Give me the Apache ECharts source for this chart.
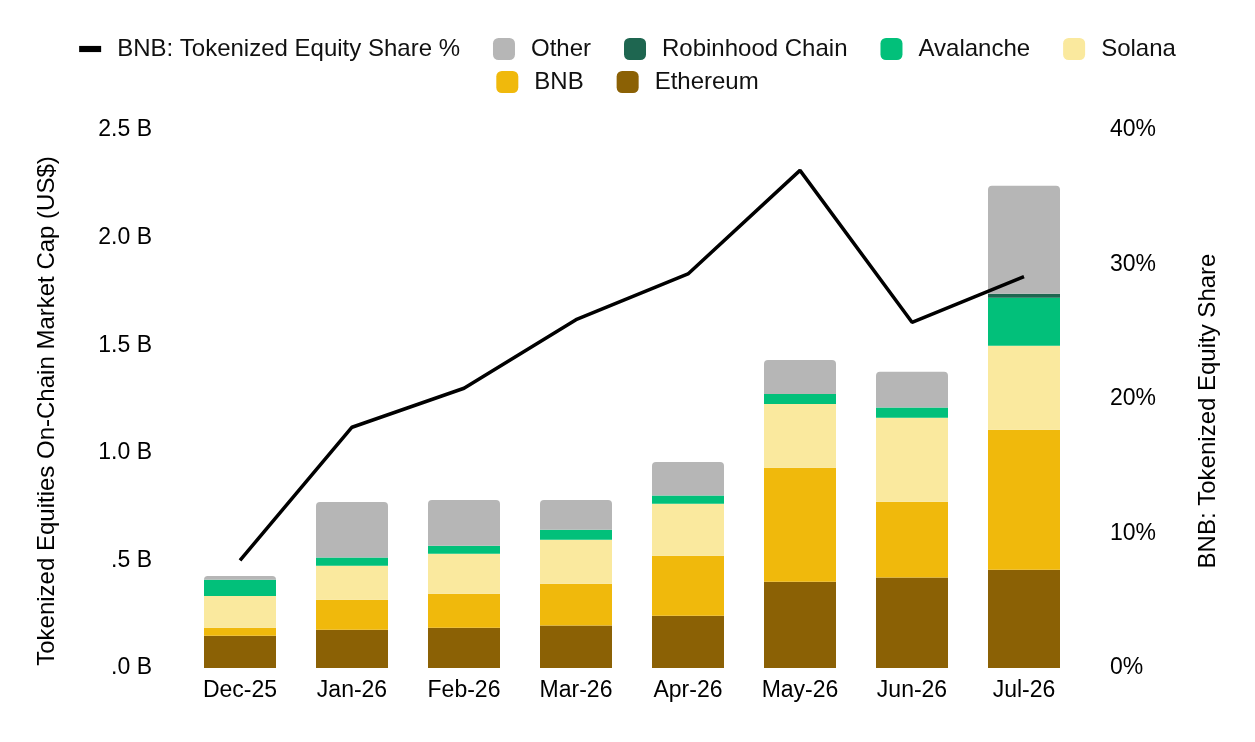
<!DOCTYPE html>
<html>
<head>
<meta charset="utf-8">
<script src="https://cdn.jsdelivr.net/npm/echarts@6/dist/echarts.min.js"></script>
<style>
html,body{margin:0;padding:0;background:#fff;}
#chart{width:1255px;height:742px;}
</style>
</head>
<body>
<div id="chart"></div>
<script>
var categories = ['Dec-25','Jan-26','Feb-26','Mar-26','Apr-26','May-26','Jun-26','Jul-26'];
var ethereum  = [0.150, 0.178, 0.187, 0.197, 0.243, 0.401, 0.420, 0.457];
var bnb       = [0.037, 0.139, 0.158, 0.195, 0.279, 0.530, 0.353, 0.650];
var solana    = [0.148, 0.158, 0.186, 0.204, 0.241, 0.296, 0.390, 0.391];
var avalanche = [0.075, 0.038, 0.037, 0.047, 0.038, 0.046, 0.047, 0.223];
var robinhood = [0, 0, 0, 0, 0, 0, 0, 0.018];
var other     = [0.017, 0.258, 0.213, 0.138, 0.156, 0.158, 0.167, 0.502];
var bnbShare  = [8.0, 17.9, 20.8, 25.9, 29.3, 37.0, 25.7, 29.1];
var leftTickLabels = ['.0 B', '.5 B', '1.0 B', '1.5 B', '2.0 B', '2.5 B'];
var rightTickLabels = ['0%', '10%', '20%', '30%', '40%'];

var FONT = 'Liberation Sans, Arial, Helvetica, sans-serif';
var FS = 23;
var FS_BIG = 24;
var colors = {
  other: '#b6b6b6',
  robinhood: '#1e6650',
  avalanche: '#02c07a',
  solana: '#fae99e',
  bnb: '#f0b90c',
  ethereum: '#8b6105'
};

var chart = echarts.init(document.getElementById('chart'));
var legendText = {fontFamily: FONT, fontSize: FS_BIG, color: '#111', padding: [0, 0, 0, 11]};
var sq = 'roundRect';

function barSeries(name, data, color, top) {
  return {
    name: name, type: 'bar', stack: 'total', data: data, barWidth: 72,
    itemStyle: {color: color, borderRadius: top ? [4, 4, 0, 0] : 0},
    emphasis: {disabled: true}
  };
}

var option = {
  animation: false,
  backgroundColor: '#fff',
  textStyle: {fontFamily: FONT},
  legend: [
    {
      top: 32, left: 'center', itemWidth: 22, itemHeight: 22, itemGap: 33,
      textStyle: legendText, selectedMode: false,
      data: [
        {name: 'BNB: Tokenized Equity Share %', icon: 'path://M0,0H25V7H0Z', itemStyle: {color: '#000'}},
        {name: 'Other', icon: sq},
        {name: 'Robinhood Chain', icon: sq},
        {name: 'Avalanche', icon: sq},
        {name: 'Solana', icon: sq}
      ]
    },
    {
      top: 65, left: 'center', itemWidth: 22, itemHeight: 22, itemGap: 33,
      textStyle: legendText, selectedMode: false,
      data: [
        {name: 'BNB', icon: sq},
        {name: 'Ethereum', icon: sq}
      ]
    }
  ],
  grid: {left: 184, right: 175, top: 130, bottom: 74, containLabel: false},
  xAxis: {
    type: 'category', data: categories, boundaryGap: true,
    axisLine: {show: false}, axisTick: {show: false},
    axisLabel: {fontFamily: FONT, fontSize: FS, color: '#000', margin: 11}
  },
  yAxis: [
    {
      type: 'value', min: 0, max: 2.5, interval: 0.5,
      name: 'Tokenized Equities On-Chain Market Cap (US$)',
      nameLocation: 'middle', nameGap: 125, nameRotate: 90,
      nameTextStyle: {fontFamily: FONT, fontSize: FS_BIG, color: '#000', padding: [0, 24, 0, 0]},
      axisLine: {show: false}, axisTick: {show: false}, splitLine: {show: false},
      axisLabel: {
        fontFamily: FONT, fontSize: FS, color: '#000', margin: 32,
        formatter: function (v) { return leftTickLabels[Math.round(v / 0.5)]; }
      }
    },
    {
      type: 'value', min: 0, max: 40, interval: 10, position: 'right',
      name: 'BNB: Tokenized Equity Share',
      nameLocation: 'middle', nameGap: 116, nameRotate: 90,
      nameTextStyle: {fontFamily: FONT, fontSize: FS_BIG, color: '#000', padding: [0, 24, 0, 0]},
      axisLine: {show: false}, axisTick: {show: false}, splitLine: {show: false},
      axisLabel: {
        fontFamily: FONT, fontSize: FS, color: '#000', margin: 30,
        formatter: function (v) { return rightTickLabels[Math.round(v / 10)]; }
      }
    }
  ],
  series: [
    barSeries('Ethereum', ethereum, colors.ethereum, false),
    barSeries('BNB', bnb, colors.bnb, false),
    barSeries('Solana', solana, colors.solana, false),
    barSeries('Avalanche', avalanche, colors.avalanche, false),
    barSeries('Robinhood Chain', robinhood, colors.robinhood, false),
    barSeries('Other', other, colors.other, true),
    {
      name: 'BNB: Tokenized Equity Share %', type: 'line', yAxisIndex: 1,
      data: bnbShare, symbol: 'none', z: 10,
      lineStyle: {color: '#000', width: 3.5}, itemStyle: {color: '#000'},
      emphasis: {disabled: true}
    }
  ]
};
chart.setOption(option);
</script>
</body>
</html>
